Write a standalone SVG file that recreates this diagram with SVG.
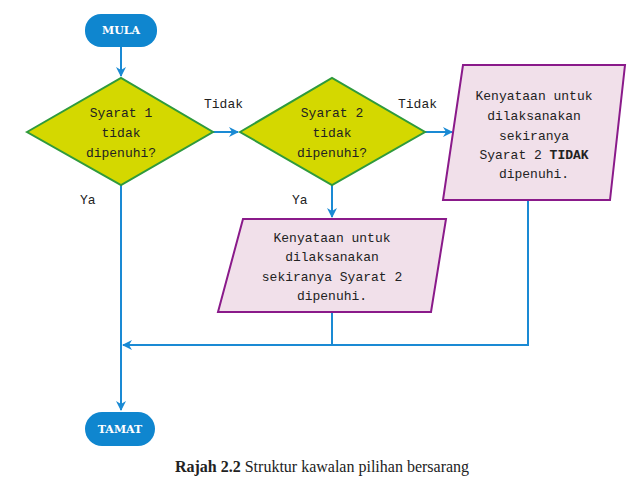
<svg xmlns="http://www.w3.org/2000/svg" width="640" height="491" viewBox="0 0 640 491">
<style>
.t{font-family:"Liberation Mono",monospace;font-size:13px;fill:#222;text-anchor:middle}
.l{font-family:"Liberation Mono",monospace;font-size:13px;fill:#222}
.term{fill:#0f86cf}
.tt{font-family:"DejaVu Serif",serif;font-weight:bold;font-size:11px;fill:#fff;text-anchor:middle}
.dia{fill:#d4d800;stroke:#2f9a3c;stroke-width:2}
.par{fill:#f1e0ea;stroke:#8a1a8a;stroke-width:2}
.c{stroke:#1a8ad4;stroke-width:2;fill:none}
</style>
<defs><marker id="a" viewBox="0 0 10 10" refX="9" refY="5" markerWidth="5" markerHeight="5" orient="auto"><path d="M0,0 L10,5 L0,10 L3,5 z" fill="#1a8ad4"/></marker></defs>
<rect width="640" height="491" fill="#fff"/>
<g id="connectors">
<path class="c" d="M121,47 V76" marker-end="url(#a)"/>
<path class="c" d="M213,132 H238" marker-end="url(#a)"/>
<path class="c" d="M425,132 H452" marker-end="url(#a)"/>
<path class="c" d="M332,185 V217" marker-end="url(#a)"/>
<path class="c" d="M332,312 V345"/>
<path class="c" d="M528,200 V345 H123" marker-end="url(#a)"/>
<path class="c" d="M121,185 V410" marker-end="url(#a)"/>
</g>
<g id="mula"><rect class="term" x="85" y="14" width="72" height="33" rx="16"/><text class="tt" x="121" y="34">MULA</text></g>
<g id="d1"><polygon class="dia" points="27,132 121,78 213,132 121,185"/>
<text class="t" x="121" y="117">Syarat 1</text><text class="t" x="121" y="137">tidak</text><text class="t" x="121" y="157">dipenuhi?</text></g>
<g id="d2"><polygon class="dia" points="240,132 332,78 425,132 332,185"/>
<text class="t" x="332" y="117">Syarat 2</text><text class="t" x="332" y="137">tidak</text><text class="t" x="332" y="157">dipenuhi?</text></g>
<g id="p3"><polygon class="par" points="463,65 625,65 610,200 443,200"/>
<text class="t" x="534" y="100">Kenyataan untuk</text><text class="t" x="534" y="120">dilaksanakan</text><text class="t" x="534" y="140">sekiranya</text><text class="t" x="534" y="159">Syarat 2 <tspan font-weight="bold">TIDAK</tspan></text><text class="t" x="534" y="178">dipenuhi.</text></g>
<g id="p2"><polygon class="par" points="243,219 446,219 431,312 218,312"/>
<text class="t" x="332" y="242">Kenyataan untuk</text><text class="t" x="332" y="261">dilaksanakan</text><text class="t" x="332" y="281">sekiranya Syarat 2</text><text class="t" x="332" y="300">dipenuhi.</text></g>
<g id="labels">
<text class="l" x="204" y="108">Tidak</text><text class="l" x="398" y="108">Tidak</text>
<text class="l" x="80" y="204">Ya</text><text class="l" x="292" y="204">Ya</text>
</g>
<g id="tamat"><rect class="term" x="85" y="412" width="70" height="34" rx="17"/><text class="tt" x="120" y="433">TAMAT</text></g>
<text x="322" y="472" font-family="Liberation Serif,serif" font-size="16" text-anchor="middle" fill="#222"><tspan font-weight="bold">Rajah 2.2</tspan>  Struktur kawalan pilihan bersarang</text>
</svg>
